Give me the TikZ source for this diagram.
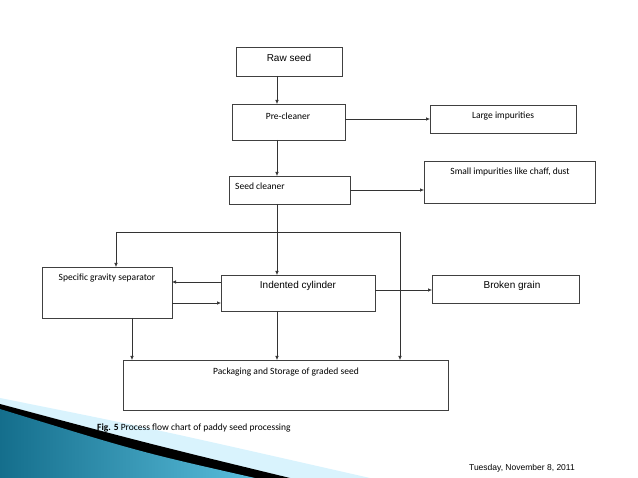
\documentclass[tikz,border=0pt]{standalone}
\usepackage{fontspec}
\setmainfont{Carlito}
\newfontfamily\arialf{Liberation Sans}
\usetikzlibrary{arrows.meta}
\definecolor{tealdark}{RGB}{20,110,140}
\definecolor{teallight}{RGB}{90,190,220}
\begin{document}
\begin{tikzpicture}[x=1pt,y=-1pt,
  box/.style={draw=black!75,line width=0.6pt},
  lbl/.style={font=\fontsize{9.5}{11}\selectfont,inner sep=0pt},
  albl/.style={font=\arialf\fontsize{10}{12}\selectfont,inner sep=0pt},
  arr/.style={draw=black!80,line width=0.6pt,-{Latex[length=4pt,width=3.5pt]}},
  ln/.style={draw=black!80,line width=0.6pt}]
\useasboundingbox (0,0) rectangle (638,478);
% swoosh decoration
\fill[cyan!15] (0,398) .. controls (150,428) .. (370,478) -- (0,478) -- cycle;
\fill[black] (0,404) .. controls (150,444) .. (290,478) -- (0,478) -- cycle;
\shade[left color=tealdark, right color=teallight] (0,409) .. controls (140,452) .. (255,478) -- (0,478) -- cycle;
% boxes
\draw[box] (236,47) rectangle (342,76);
\node[albl] (raw) at (289,58) {Raw seed};
\draw[box] (232,104) rectangle (345,140);
\node[lbl] (pre) at (288,116) {Pre-cleaner};
\draw[box] (430,105) rectangle (576,133);
\node[lbl] (large) at (503,116) {Large impurities};
\draw[box] (424,161) rectangle (595,203);
\node[lbl] (small) at (510,172) {Small impurities like chaff, dust};
\draw[box] (229,176) rectangle (350,204);
\node[lbl,anchor=west] (seed) at (235,186) {Seed cleaner};
\draw[box] (42,267) rectangle (172,318);
\node[lbl] (grav) at (107,278) {Specific gravity separator};
\draw[box] (221,275) rectangle (375,311);
\node[albl] (ind) at (298,286) {Indented cylinder};
\draw[box] (432,275) rectangle (579,303);
\node[albl] (broken) at (512,286) {Broken grain};
\draw[box] (123,360) rectangle (448,410);
\node[lbl] (pack) at (286,372) {Packaging and Storage of graded seed};
% connectors
\draw[arr] (277,76) -- (277,104);
\draw[arr] (277,140) -- (277,176);
\draw[arr] (345,119) -- (430,119);
\draw[arr] (350,190) -- (424,190);
\draw[arr] (277,204) -- (277,275);
\draw[ln] (116,232) -- (400,232);
\draw[arr] (116,232) -- (116,267);
\draw[arr] (400,232) -- (400,360);
\draw[arr] (221,282) -- (172,282);
\draw[arr] (172,303) -- (221,303);
\draw[arr] (375,290) -- (432,290);
\draw[arr] (132,318) -- (132,360);
\draw[arr] (277,311) -- (277,360);
% caption
\node[lbl,anchor=west] (cap) at (97,428) {\textbf{Fig. 5} Process flow chart of paddy seed processing};
\node[font=\arialf\fontsize{8.5}{10}\selectfont,inner sep=0pt,anchor=east] (date) at (575,468) {Tuesday, November 8, 2011};
\end{tikzpicture}
\end{document}
